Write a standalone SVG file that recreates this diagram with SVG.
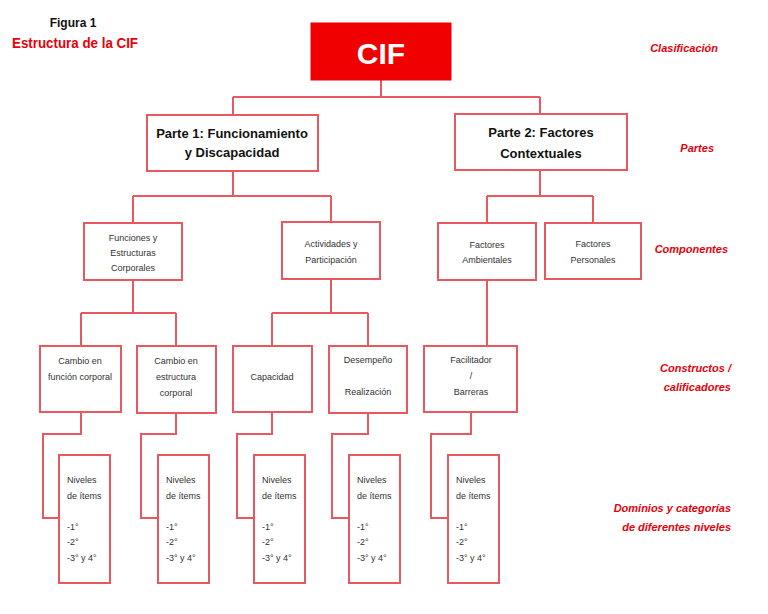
<svg xmlns="http://www.w3.org/2000/svg" width="768" height="614" viewBox="0 0 768 614">
<style>
.b{fill:#fff;stroke:#e8585e;stroke-width:2}
.c{fill:none;stroke:#e8585e;stroke-width:2}
.t{font-family:"Liberation Sans",Arial,sans-serif;font-size:9px;fill:#333;text-anchor:middle}
.n{font-family:"Liberation Sans",Arial,sans-serif;font-size:9px;fill:#333}
.h{font-family:"Liberation Sans",Arial,sans-serif;font-size:13px;font-weight:bold;fill:#111;text-anchor:middle}
.r{font-family:"Liberation Sans",Arial,sans-serif;font-size:11px;font-weight:bold;font-style:italic;fill:#e8000a;text-anchor:end}
</style>
<rect width="768" height="614" fill="#fff"/>
<text x="73" y="27" font-family="Liberation Sans,Arial,sans-serif" font-size="12" font-weight="bold" text-anchor="middle" fill="#111">Figura 1</text>
<text x="75" y="48" font-family="Liberation Sans,Arial,sans-serif" font-size="15" font-weight="bold" text-anchor="middle" fill="#e8000a" textLength="126" lengthAdjust="spacingAndGlyphs">Estructura de la CIF</text>
<g id="connectors">
<path class="c" d="M381 80V97M233 97H540M233 97V115M540 97V114"/>
<path class="c" d="M233 171V196M133 196H331M133 196V223M331 196V222"/>
<path class="c" d="M540 170V196M487 196H593M487 196V223M593 196V223"/>
<path class="c" d="M133 280V313M81 313H176M81 313V346M176 313V346"/>
<path class="c" d="M331 279V313M272 313H368M272 313V346M368 313V346"/>
<path class="c" d="M487 280V346"/>
<path class="c" d="M81 412V434H43V518H59"/>
<path class="c" d="M176 413V434H141V518H158"/>
<path class="c" d="M272 412V434H237V518H254"/>
<path class="c" d="M368 413V434H332V518H349"/>
<path class="c" d="M471 412V434H431V518H448"/>
</g>
<g id="cif"><rect x="311" y="23" width="140" height="57" fill="#f00000" stroke="#e8000a"/><text x="381" y="64" font-family="Liberation Sans,Arial,sans-serif" font-size="30" font-weight="bold" fill="#fff" text-anchor="middle">CIF</text></g>
<g id="parte1"><rect class="b" x="147" y="115" width="171" height="56"/><text class="h" x="232" y="138">Parte 1: Funcionamiento</text><text class="h" x="232" y="157">y Discapacidad</text></g>
<g id="parte2"><rect class="b" x="455" y="114" width="172" height="56"/><text class="h" x="541" y="137">Parte 2: Factores</text><text class="h" x="541" y="158">Contextuales</text></g>
<g id="funciones"><rect class="b" x="84" y="223" width="98" height="57"/><text class="t" x="133" y="241">Funciones y</text><text class="t" x="133" y="256">Estructuras</text><text class="t" x="133" y="271">Corporales</text></g>
<g id="actividades"><rect class="b" x="282" y="222" width="98" height="57"/><text class="t" x="331" y="247">Actividades y</text><text class="t" x="331" y="263">Participación</text></g>
<g id="ambientales"><rect class="b" x="438" y="223" width="98" height="57"/><text class="t" x="487" y="248">Factores</text><text class="t" x="487" y="263">Ambientales</text></g>
<g id="personales"><rect class="b" x="545" y="223" width="96" height="56"/><text class="t" x="593" y="247">Factores</text><text class="t" x="593" y="263">Personales</text></g>
<g id="c1"><rect class="b" x="40" y="346" width="81" height="66"/><text class="t" x="80" y="364">Cambio en</text><text class="t" x="80" y="380">función corporal</text></g>
<g id="c2"><rect class="b" x="137" y="346" width="79" height="67"/><text class="t" x="176" y="364">Cambio en</text><text class="t" x="176" y="380">estructura</text><text class="t" x="176" y="396">corporal</text></g>
<g id="c3"><rect class="b" x="233" y="346" width="79" height="66"/><text class="t" x="272" y="380">Capacidad</text></g>
<g id="c4"><rect class="b" x="329" y="346" width="78" height="67"/><text class="t" x="368" y="363">Desempeño</text><text class="t" x="368" y="395">Realización</text></g>
<g id="c5"><rect class="b" x="424" y="346" width="93" height="66"/><text class="t" x="471" y="363">Facilitador</text><text class="t" x="471" y="379">/</text><text class="t" x="471" y="395">Barreras</text></g>
<g id="n1"><rect class="b" x="59" y="455" width="51" height="128"/><text class="n" x="67" y="483">Niveles</text><text class="n" x="67" y="499">de ítems</text><text class="n" x="67" y="530">-1°</text><text class="n" x="67" y="545">-2°</text><text class="n" x="67" y="561">-3° y 4°</text></g>
<g id="n2"><rect class="b" x="158" y="455" width="51" height="128"/><text class="n" x="166" y="483">Niveles</text><text class="n" x="166" y="499">de ítems</text><text class="n" x="166" y="530">-1°</text><text class="n" x="166" y="545">-2°</text><text class="n" x="166" y="561">-3° y 4°</text></g>
<g id="n3"><rect class="b" x="254" y="455" width="51" height="128"/><text class="n" x="262" y="483">Niveles</text><text class="n" x="262" y="499">de ítems</text><text class="n" x="262" y="530">-1°</text><text class="n" x="262" y="545">-2°</text><text class="n" x="262" y="561">-3° y 4°</text></g>
<g id="n4"><rect class="b" x="349" y="455" width="51" height="128"/><text class="n" x="357" y="483">Niveles</text><text class="n" x="357" y="499">de ítems</text><text class="n" x="357" y="530">-1°</text><text class="n" x="357" y="545">-2°</text><text class="n" x="357" y="561">-3° y 4°</text></g>
<g id="n5"><rect class="b" x="448" y="455" width="51" height="128"/><text class="n" x="456" y="483">Niveles</text><text class="n" x="456" y="499">de ítems</text><text class="n" x="456" y="530">-1°</text><text class="n" x="456" y="545">-2°</text><text class="n" x="456" y="561">-3° y 4°</text></g>
<g id="labels">
<text class="r" x="718" y="52">Clasificación</text>
<text class="r" x="714" y="152">Partes</text>
<text class="r" x="728" y="253">Componentes</text>
<text class="r" x="731" y="372">Constructos /</text>
<text class="r" x="731" y="391">calificadores</text>
<text class="r" x="731" y="512">Dominios y categorías</text>
<text class="r" x="731" y="531">de diferentes niveles</text>
</g>
</svg>
